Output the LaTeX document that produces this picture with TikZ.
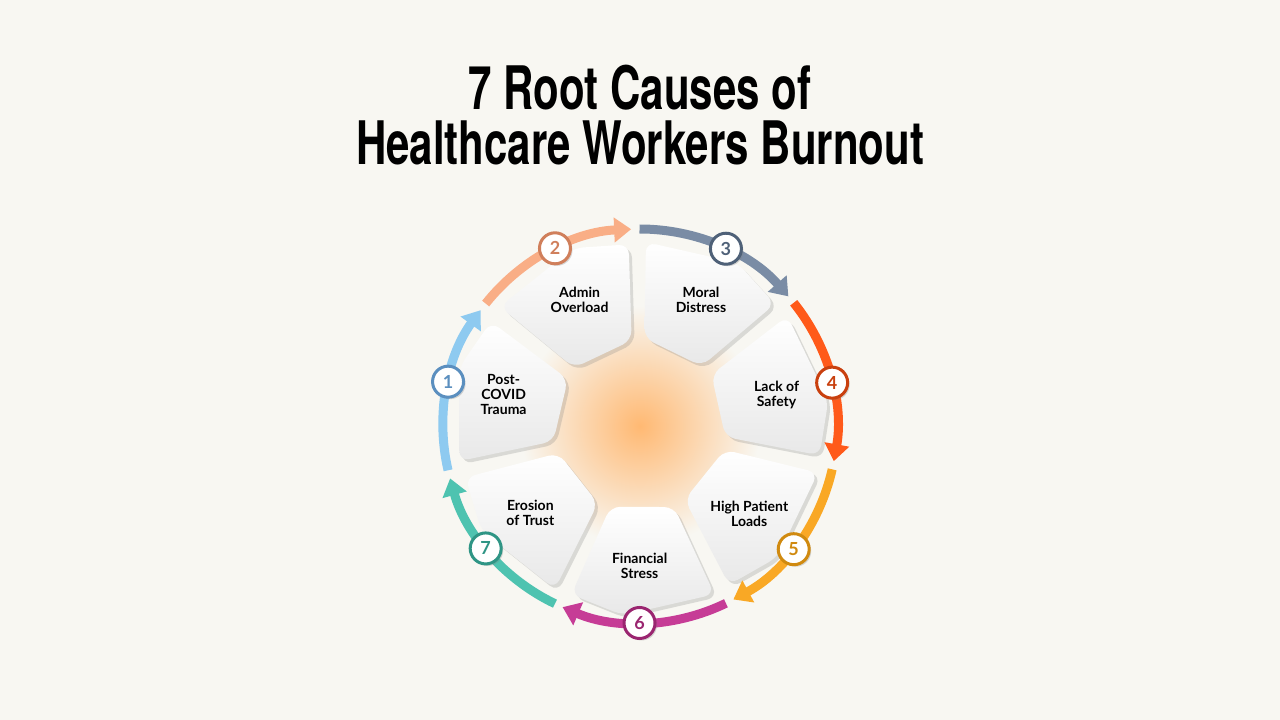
\documentclass[tikz,border=0pt]{standalone}
\usepackage{fontspec}
\setmainfont{Lato}
\newfontfamily\titlefont{TeX Gyre Heros}
\usetikzlibrary{arrows.meta,shadows,calc}
\definecolor{bg-cream}{HTML}{F8F7F2}
\definecolor{c-one}{HTML}{8ECAF0}   \definecolor{d-one}{HTML}{5B8FBF}
\definecolor{c-two}{HTML}{F9AE86}   \definecolor{d-two}{HTML}{D07F5B}
\definecolor{c-three}{HTML}{7A8CA5} \definecolor{d-three}{HTML}{4F6178}
\definecolor{c-four}{HTML}{FF5A1A}  \definecolor{d-four}{HTML}{C9400F}
\definecolor{c-five}{HTML}{F9A825}  \definecolor{d-five}{HTML}{D08A10}
\definecolor{c-six}{HTML}{C63C96}   \definecolor{d-six}{HTML}{9A2570}
\definecolor{c-seven}{HTML}{4EC3B0} \definecolor{d-seven}{HTML}{2F9585}
\tikzset{
  tile/.style={rounded corners=10pt, top color=white, bottom color=gray!18,
    drop shadow={opacity=0.25, shadow xshift=3pt, shadow yshift=-3pt}},
  cause/.style={font=\bfseries\fontsize{14}{15}\selectfont, align=center, text=black},
  numring/.style={circle, draw=#1, line width=3pt, fill=white, minimum size=31pt,
    inner sep=0pt, font=\bfseries\fontsize{18}{18}\selectfont, text=#1,
    drop shadow={opacity=0.3, shadow xshift=2pt, shadow yshift=-2pt}},
  flow/.style={line width=9pt, draw=#1, -{Triangle[length=17pt,width=24pt]}}
}
\begin{document}
\begin{tikzpicture}[x=1pt,y=1pt]
  \fill[bg-cream] (0,0) rectangle (1280,720);
  \useasboundingbox (0,0) rectangle (1280,720);
  % title
  \node[font=\titlefont\bfseries\fontsize{60}{55}\selectfont, align=center] (title) at (640,605)
    {\scalebox{0.7}[1]{7 Root Causes of}\\\scalebox{0.7}[1]{Healthcare Workers Burnout}};
  \coordinate (hub) at (640,294);
  \begin{scope}[shift={(hub)}]
    % central glow
    \shade[inner color=orange!55, outer color=bg-cream] (0,0) circle (120);
    \foreach \i/\lab/\col in {1/{Post-\\COVID\\Trauma}/c-one,
        2/{Admin\\Overload}/c-two, 3/{Moral\\Distress}/c-three,
        4/{Lack of\\Safety}/c-four, 5/{High Patient\\Loads}/c-five,
        6/{Financial\\Stress}/c-six, 7/{Erosion\\of Trust}/c-seven}{
      \pgfmathsetmacro\ang{167-(\i-1)*51.4286}
      % wedge tile
      \path[tile] (\ang+23:88) -- (\ang+24:184) -- (\ang-5:190) -- (\ang-22:182)
        -- (\ang-20:86) -- cycle;
      % arrow ring
      \draw[flow=\col] (\ang+26:197) arc (\ang+26:\ang-23:197);
      \node[cause] (lab\i) at (\ang:140) {\lab};
    }
    \foreach \i/\dk in {1/d-one,2/d-two,3/d-three,4/d-four,5/d-five,6/d-six,7/d-seven}{
      \pgfmathsetmacro\ang{167-(\i-1)*51.4286}
      \node[numring=\dk] (num\i) at (\ang:197) {\i};
    }
  \end{scope}
\end{tikzpicture}
\end{document}
